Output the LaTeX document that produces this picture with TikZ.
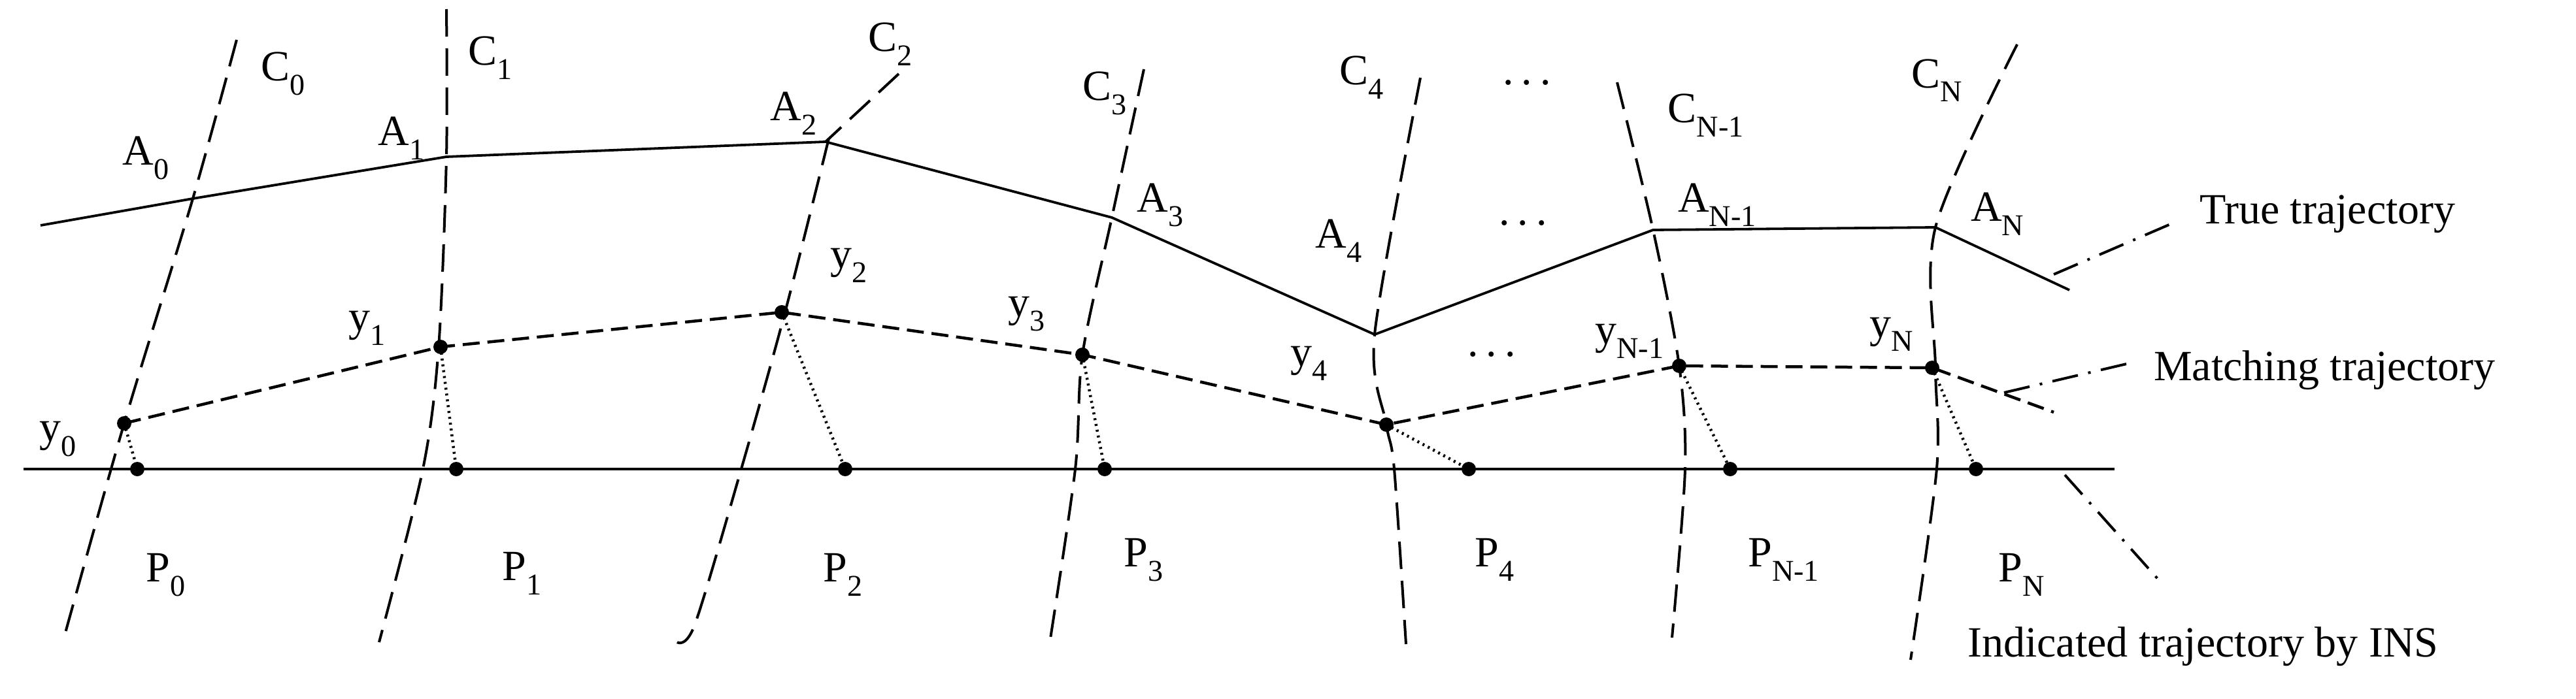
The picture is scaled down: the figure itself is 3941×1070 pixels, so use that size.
\documentclass[tikz,border=0pt]{standalone}
\usepackage{fontspec}
\setmainfont{Liberation Serif}
\begin{document}
\begin{tikzpicture}[x=1pt,y=-1pt,
  lbl/.style={font=\fontsize{66}{70}\selectfont,inner sep=0pt},
  cdash/.style={line width=4pt,dash pattern=on 42pt off 18pt},
  mdash/.style={line width=4.5pt,dash pattern=on 26pt off 12pt},
  solid line/.style={line width=3.8pt},
  dotl/.style={line width=4.5pt,dash pattern=on 3pt off 6pt},
  lead/.style={line width=4pt,dash pattern=on 40pt off 16pt on 4pt off 16pt},
  dot/.style={circle,fill,inner sep=0pt,minimum size=22pt}]
\useasboundingbox (0,0) rectangle (3941,1070);
% true trajectory
\coordinate (T0) at (62,345); \coordinate (A0) at (295,304);
\coordinate (A1) at (683,240); \coordinate (A2) at (1263,217);
\coordinate (A3) at (1701,333); \coordinate (A4) at (2103,512);
\coordinate (AN1) at (2529,352); \coordinate (AN) at (2961,348);
\coordinate (TE) at (3166,444);
\draw[solid line] (T0)--(A0)--(A1)--(A2)--(A3)--(A4)--(AN1)--(AN)--(TE);
% C curves
\draw[cdash] plot[smooth] coordinates {(362,61) (295,304) (190,648) (96,983)};
\draw[cdash] plot[smooth] coordinates {(683,14) (683,240) (671,532) (647,718) (580,983)};
\draw[cdash] (1375,113)--(A2);
\draw[cdash] plot[smooth] coordinates {(1268,212) (1201,478) (1134,718) (1063,956) (1036,983)};
\draw[cdash] plot[smooth] coordinates {(1750,106) (1701,333) (1656,543) (1645,718) (1605,990)};
\draw[cdash] plot[smooth] coordinates {(2173,119) (2103,512) (2121,650) (2133,718) (2151,986)};
\draw[cdash] plot[smooth] coordinates {(2474,126) (2529,352) (2569,560) (2578,718) (2558,976)};
\draw[cdash] plot[smooth] coordinates {(3086,68) (2961,348) (2961,563) (2963,717) (2923,1010)};
% ground
\coordinate (G0) at (36,718); \coordinate (G1) at (3235,718);
\draw[solid line] (G0)--(G1);
% matching
\node[dot] (y0) at (190,648) {}; \node[dot] (y1) at (674,531) {};
\node[dot] (y2) at (1196,478) {}; \node[dot] (y3) at (1656,543) {};
\node[dot] (y4) at (2121,650) {}; \node[dot] (yN1) at (2569,560) {};
\node[dot] (yN) at (2956,563) {}; \coordinate (ME) at (3142,631);
\draw[mdash] (y0.center)--(y1.center)--(y2.center)--(y3.center)--(y4.center)--(yN1.center)--(yN.center)--(ME);
\node[dot] (P0) at (210,718) {}; \node[dot] (P1) at (698,718) {};
\node[dot] (P2) at (1293,718) {}; \node[dot] (P3) at (1690,718) {};
\node[dot] (P4) at (2247,718) {}; \node[dot] (PN1) at (2647,718) {};
\node[dot] (PN) at (3023,718) {};
\foreach \a/\b in {y0/P0,y1/P1,y2/P2,y3/P3,y4/P4,yN1/PN1,yN/PN}
  \draw[dotl] (\a.center)--(\b.center);
% leaders
\coordinate (L1a) at (3142,420); \coordinate (L1b) at (3330,339);
\coordinate (L2a) at (3066,601); \coordinate (L2b) at (3262,555);
\coordinate (L3a) at (3159,727); \coordinate (L3b) at (3310,896);
\draw[lead] (L1a)--(L1b); \draw[lead] (L2a)--(L2b); \draw[lead] (L3a)--(L3b);
% labels
\node[lbl] (lC0) at (433,113) {C\textsubscript{0}};
\node[lbl] (lC1) at (750,89) {C\textsubscript{1}};
\node[lbl] (lC2) at (1362,68) {C\textsubscript{2}};
\node[lbl] (lC3) at (1690,143) {C\textsubscript{3}};
\node[lbl] (lC4) at (2083,119) {C\textsubscript{4}};
\node[lbl] (lCN1) at (2610,177) {C\textsubscript{N-1}};
\node[lbl] (lCN) at (2963,123) {C\textsubscript{N}};
\node[lbl] (lA0) at (223,242) {A\textsubscript{0}};
\node[lbl] (lA1) at (614,212) {A\textsubscript{1}};
\node[lbl] (lA2) at (1214,174) {A\textsubscript{2}};
\node[lbl] (lA3) at (1775,314) {A\textsubscript{3}};
\node[lbl] (lA4) at (2048,369) {A\textsubscript{4}};
\node[lbl] (lAN1) at (2627,314) {A\textsubscript{N-1}};
\node[lbl] (lAN) at (3056,328) {A\textsubscript{N}};
\node[lbl] (ly0) at (89,672) {y\textsubscript{0}};
\node[lbl] (ly1) at (562,502) {y\textsubscript{1}};
\node[lbl] (ly2) at (1299,406) {y\textsubscript{2}};
\node[lbl] (ly3) at (1571,481) {y\textsubscript{3}};
\node[lbl] (ly4) at (2003,556) {y\textsubscript{4}};
\node[lbl] (lyN1) at (2493,522) {y\textsubscript{N-1}};
\node[lbl] (lyN) at (2894,512) {y\textsubscript{N}};
\node[lbl] (lP0) at (254,880) {P\textsubscript{0}};
\node[lbl] (lP1) at (799,878) {P\textsubscript{1}};
\node[lbl] (lP2) at (1290,880) {P\textsubscript{2}};
\node[lbl] (lP3) at (1750,857) {P\textsubscript{3}};
\node[lbl] (lP4) at (2287,857) {P\textsubscript{4}};
\node[lbl] (lPN1) at (2729,857) {P\textsubscript{N-1}};
\node[lbl] (lPN) at (3093,880) {P\textsubscript{N}};
\node[lbl] (d1) at (2336,127) {.\hspace{12pt}.\hspace{12pt}.};
\node[lbl] (d2) at (2330,342) {.\hspace{12pt}.\hspace{12pt}.};
\node[lbl] (d3) at (2282,543) {.\hspace{12pt}.\hspace{12pt}.};
\node[lbl,anchor=west] (t1) at (3365,328) {True trajectory};
\node[lbl,anchor=west] (t2) at (3295,567) {Matching trajectory};
\node[lbl,anchor=west] (t3) at (3010,990) {Indicated trajectory by INS};
\end{tikzpicture}
\end{document}
